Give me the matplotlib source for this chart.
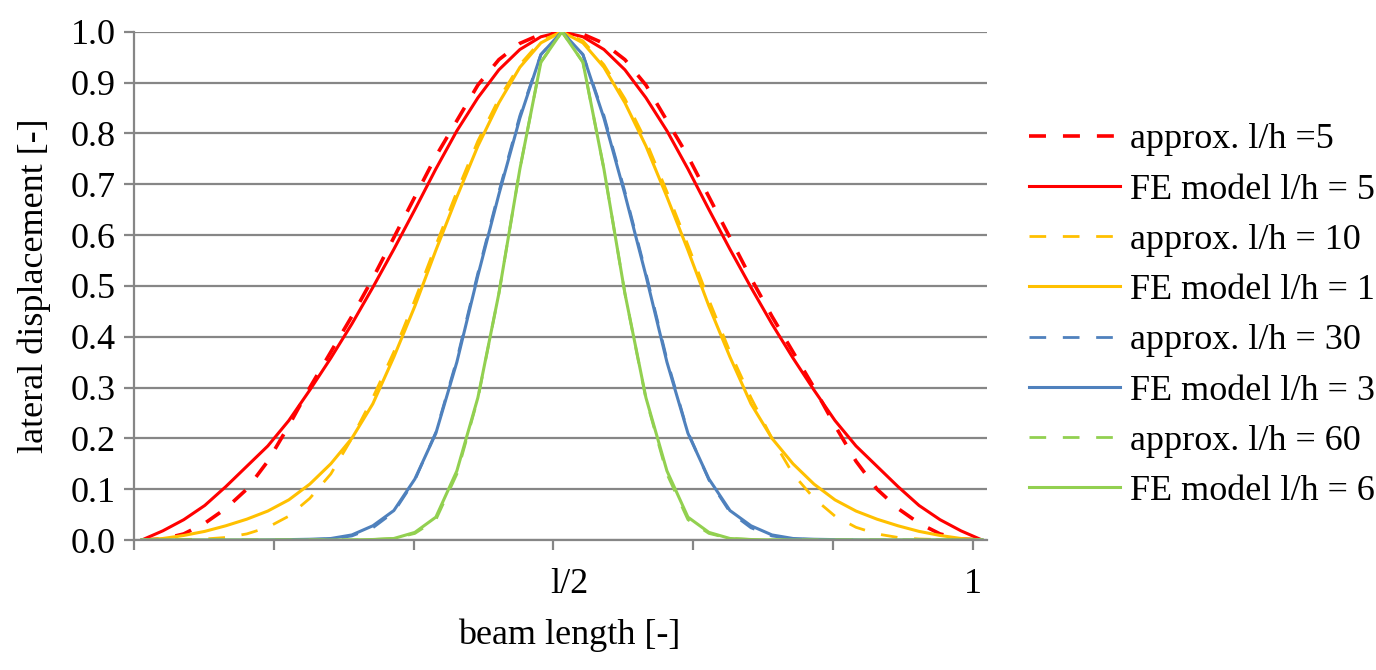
import matplotlib
matplotlib.use("Agg")
import matplotlib.pyplot as plt
import matplotlib.transforms as mtransforms

plt.rcParams['font.family'] = ['Liberation Serif', 'DejaVu Serif']

# position along the beam (fraction of length)
beam_pos = [i / 40 for i in range(41)]

approx_5 = [0, 0.002, 0.012, 0.033, 0.062, 0.1, 0.155, 0.225, 0.3, 0.37, 0.44,
            0.515, 0.595, 0.675, 0.755, 0.825, 0.895, 0.945, 0.977, 0.995, 1.0,
            0.995, 0.977, 0.945, 0.895, 0.825, 0.755, 0.675, 0.595, 0.515, 0.44,
            0.37, 0.3, 0.225, 0.155, 0.1, 0.062, 0.033, 0.012, 0.002, 0]
fe_5 = [0, 0.018, 0.04, 0.068, 0.105, 0.145, 0.185, 0.235, 0.295, 0.358, 0.425,
        0.497, 0.572, 0.65, 0.73, 0.805, 0.87, 0.925, 0.965, 0.99, 1.0,
        0.99, 0.965, 0.925, 0.87, 0.805, 0.73, 0.65, 0.572, 0.497, 0.425,
        0.358, 0.295, 0.235, 0.185, 0.145, 0.105, 0.068, 0.04, 0.018, 0]
approx_10 = [0, 0, 0.001, 0.002, 0.005, 0.012, 0.025, 0.047, 0.082, 0.13, 0.2,
             0.28, 0.37, 0.472, 0.58, 0.685, 0.785, 0.868, 0.935, 0.982, 1.0,
             0.982, 0.935, 0.868, 0.785, 0.685, 0.58, 0.472, 0.37, 0.28, 0.2,
             0.13, 0.082, 0.047, 0.025, 0.012, 0.005, 0.002, 0.001, 0, 0]
fe_10 = [0, 0.003, 0.009, 0.017, 0.028, 0.041, 0.057, 0.079, 0.11, 0.15, 0.2,
         0.268, 0.36, 0.46, 0.57, 0.675, 0.775, 0.86, 0.93, 0.978, 1.0,
         0.978, 0.93, 0.86, 0.775, 0.675, 0.57, 0.46, 0.36, 0.268, 0.2,
         0.15, 0.11, 0.079, 0.057, 0.041, 0.028, 0.017, 0.009, 0.003, 0]
approx_30 = [0, 0, 0, 0, 0, 0, 0, 0, 0.001, 0.002, 0.008,
             0.024, 0.055, 0.118, 0.212, 0.355, 0.525, 0.685, 0.835, 0.955, 1.0,
             0.955, 0.835, 0.685, 0.525, 0.355, 0.212, 0.118, 0.055, 0.024, 0.008,
             0.002, 0.001, 0, 0, 0, 0, 0, 0, 0, 0]
fe_30 = [0, 0, 0, 0, 0, 0, 0.0003, 0.0008, 0.0015, 0.003, 0.01,
         0.028, 0.058, 0.12, 0.21, 0.35, 0.52, 0.68, 0.83, 0.955, 1.0,
         0.955, 0.83, 0.68, 0.52, 0.35, 0.21, 0.12, 0.058, 0.028, 0.01,
         0.003, 0.0015, 0.0008, 0.0003, 0, 0, 0, 0, 0, 0]
approx_60 = [0, 0, 0, 0, 0, 0, 0, 0, 0, 0, 0,
             0.001, 0.003, 0.013, 0.04, 0.13, 0.278, 0.485, 0.73, 0.94, 1.0,
             0.94, 0.73, 0.485, 0.278, 0.13, 0.04, 0.013, 0.003, 0.001, 0,
             0, 0, 0, 0, 0, 0, 0, 0, 0, 0]
fe_60 = [0, 0, 0, 0, 0, 0, 0, 0, 0, 0, 0.0003,
         0.001, 0.003, 0.015, 0.045, 0.136, 0.28, 0.485, 0.73, 0.94, 1.0,
         0.94, 0.73, 0.485, 0.28, 0.136, 0.045, 0.015, 0.003, 0.001, 0.0003,
         0, 0, 0, 0, 0, 0, 0, 0, 0, 0]

RED = '#FF0000'
YELLOW = '#FFC000'
BLUE = '#4F81BD'
GREEN = '#92D050'
GRID = '#868686'
FS = 26

fig = plt.figure(figsize=(13.76, 6.70), dpi=100)
ax = fig.add_axes([0.0974, 0.194, 0.6199, 0.7587])

ax.plot(beam_pos, approx_5, color=RED, lw=2.6, dashes=(4.7, 4.7), label='approx. l/h =5')
ax.plot(beam_pos, fe_5, color=RED, lw=2.2, label='FE model l/h = 5')
ax.plot(beam_pos, approx_10, color=YELLOW, lw=2.0, dashes=(6, 6), label='approx. l/h = 10')
ax.plot(beam_pos, fe_10, color=YELLOW, lw=2.2, label='FE model l/h = 10')
ax.plot(beam_pos, approx_30, color=BLUE, lw=2.0, dashes=(6, 6), label='approx. l/h = 30')
ax.plot(beam_pos, fe_30, color=BLUE, lw=2.2, label='FE model l/h = 30')
ax.plot(beam_pos, approx_60, color=GREEN, lw=2.0, dashes=(6, 6), label='approx. l/h = 60')
ax.plot(beam_pos, fe_60, color=GREEN, lw=2.2, label='FE model l/h = 60')

# axis frame, Excel style
x0, x1 = -0.0092, 1.0059
step = 0.16637
ax.set_xlim(x0, x1)
ax.set_ylim(0, 1.0)
for s in ['top', 'right']:
    ax.spines[s].set_visible(False)
for s in ['left', 'bottom']:
    ax.spines[s].set_color(GRID)
    ax.spines[s].set_linewidth(1.6)

ax.set_yticks([i / 10 for i in range(11)])
ax.set_yticklabels(['%.1f' % (i / 10) for i in range(11)])
ax.yaxis.grid(True, color=GRID, lw=1.6)
ax.set_axisbelow(True)

ax.set_xticks([x0 + k * step for k in range(7)])
ax.set_xticklabels(['', '', '', 'l/2', '', '', '1'])
ax.tick_params(axis='both', direction='out', length=7, width=1.6, color=GRID,
               labelsize=FS, pad=6)
ax.tick_params(axis='x', pad=13)
lbl = ax.get_xticklabels()[3]
lbl.set_transform(lbl.get_transform() + mtransforms.ScaledTranslation(0.16, 0, fig.dpi_scale_trans))

ax.set_xlabel('beam length [-]', fontsize=FS)
ax.xaxis.set_label_coords(0.51, -0.155)
ax.set_ylabel('lateral displacement [-]', fontsize=FS, labelpad=14)

fig.legend(loc='upper left', bbox_to_anchor=(0.748, 0.8164), frameon=False,
           fontsize=FS, handlelength=2.5, handletextpad=0.28, labelspacing=0.47,
           borderpad=0, borderaxespad=0)

fig.savefig('out.png', dpi=100)
